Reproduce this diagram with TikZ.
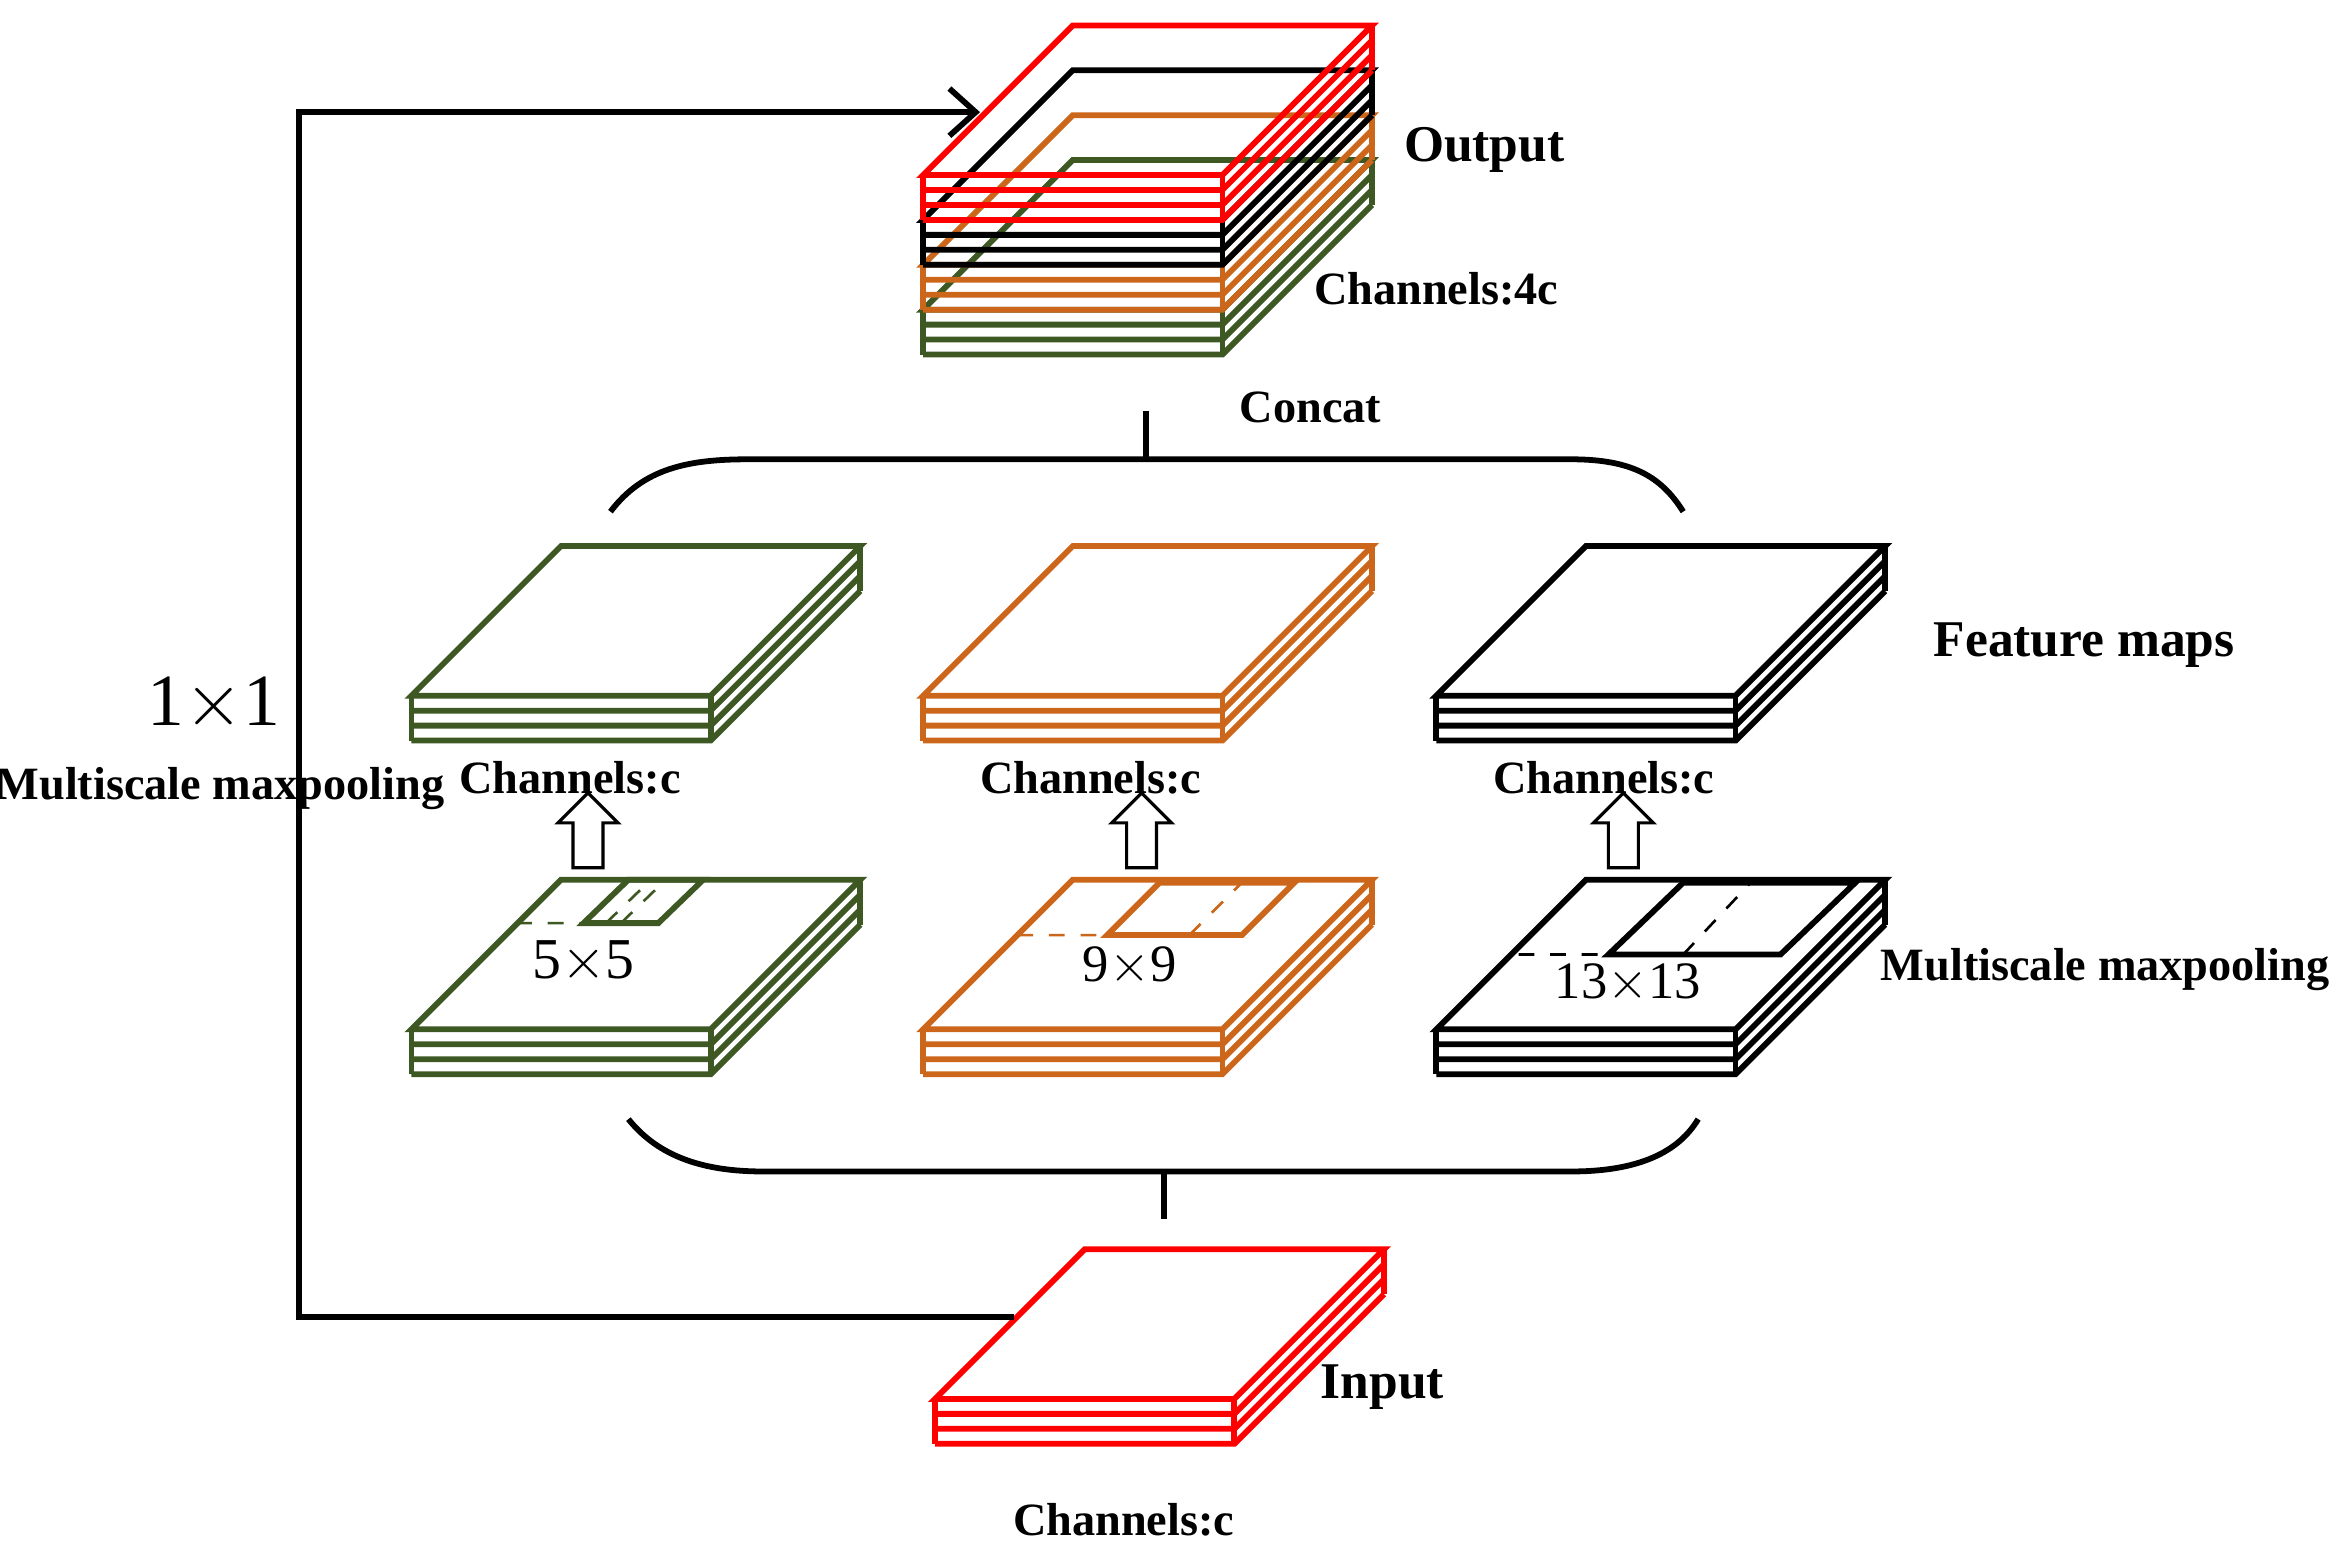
\documentclass[tikz,border=0pt]{standalone}
\usepackage{fontspec}
\setmainfont{Liberation Serif}
\usetikzlibrary{arrows.meta}
\definecolor{cgreen}{RGB}{62,88,36}
\definecolor{corange}{RGB}{204,102,26}
\definecolor{cred}{RGB}{255,0,0}
\newcommand\slab[5]{%
 \begin{scope}[shift={(#1,#2)},draw=#3,line width=1.1pt,line join=miter]
 \draw (0,0)--(2,0)--(3,1)--(1,1)--cycle;
 \foreach \i in {1,...,#4}{\draw (0,-\i*0.1)--(2,-\i*0.1)--(3,1-\i*0.1);}
 \draw (0,0)--(0,-#4*0.1); \draw (2,0)--(2,-#4*0.1); \draw (3,1)--(3,1-#4*0.1);
 \coordinate (#5) at (0,0);
 \end{scope}}
\newcommand\uparr[2]{\draw[line width=0.6pt] (#1-0.1,#2)--(#1+0.1,#2)--(#1+0.1,#2+0.3)--(#1+0.2,#2+0.3)--(#1,#2+0.5)--(#1-0.2,#2+0.3)--(#1-0.1,#2+0.3)--cycle;}
\tikzset{lbl/.style={font=\bfseries\fontsize{8.8}{10}\selectfont,inner sep=0pt},
 big/.style={font=\bfseries\fontsize{9.8}{11}\selectfont,inner sep=0pt},
 win/.style={line width=1.1pt},
 dsh/.style={dashed,line width=0.5pt}}
\begin{document}
\begin{tikzpicture}
\useasboundingbox (0,0) rectangle (15.68,10.43);
% output
\slab{6.17}{8.36}{cgreen}{3}{og}
\slab{6.17}{8.66}{corange}{3}{oo}
\slab{6.17}{8.96}{black}{3}{ob}
\slab{6.17}{9.26}{cred}{3}{or}
% feature maps
\slab{2.75}{5.78}{cgreen}{3}{fg}
\slab{6.17}{5.78}{corange}{3}{fo}
\slab{9.60}{5.78}{black}{3}{fb}
% pool maps
\slab{2.75}{3.55}{cgreen}{3}{pg}
\slab{6.17}{3.55}{corange}{3}{po}
\slab{9.60}{3.55}{black}{3}{pb}
% input
\slab{6.25}{1.08}{cred}{3}{in}
% windows
\draw[win,cgreen] (3.90,4.26)--(4.40,4.26)--(4.70,4.55)--(4.20,4.55)--cycle;
\draw[dsh,cgreen] (3.45,4.26)--(3.90,4.26) (4.05,4.26)--(4.35,4.55) (4.15,4.26)--(4.45,4.55);
\draw[win,corange] (7.40,4.18)--(8.30,4.18)--(8.65,4.53)--(7.75,4.53)--cycle;
\draw[dsh,corange] (6.80,4.18)--(7.40,4.18) (7.95,4.18)--(8.30,4.53);
\draw[win] (10.75,4.05)--(11.90,4.05)--(12.40,4.53)--(11.25,4.53)--cycle;
\draw[dsh] (10.15,4.05)--(10.75,4.05) (11.25,4.05)--(11.70,4.53);
\node[font=\fontsize{11}{12}\selectfont] (k5) at (3.90,4.00) {5$\times$5};
\node[font=\fontsize{10}{12}\selectfont] (k9) at (7.55,3.97) {9$\times$9};
\node[font=\fontsize{10}{12}\selectfont] (k13) at (10.88,3.86) {13$\times$13};
% arrows
\uparr{3.93}{4.63}
\uparr{7.63}{4.63}
\uparr{10.85}{4.63}
% braces
\coordinate (tb) at (7.66,7.36); \coordinate (tt) at (7.66,7.68);
\draw[line width=1.1pt] (4.08,7.01) .. controls (4.3,7.3) and (4.6,7.36) .. (5.0,7.36) -- (10.5,7.36) .. controls (10.9,7.36) and (11.1,7.25) .. (11.25,7.01);
\draw[line width=1.1pt] (tb)--(tt);
\coordinate (bb) at (7.78,2.60); \coordinate (bt) at (7.78,2.28);
\draw[line width=1.1pt] (4.2,2.95) .. controls (4.4,2.7) and (4.7,2.6) .. (5.1,2.6) -- (10.5,2.6) .. controls (10.9,2.6) and (11.2,2.7) .. (11.35,2.95);
\draw[line width=1.1pt] (bb)--(bt);
% skip
\coordinate (sA) at (6.78,1.63); \coordinate (sB) at (6.55,9.68);
\draw[line width=1.1pt,-{Straight Barb[length=5pt,width=9pt]}] (sA) -| (2.00,9.68) -- (sB);
% labels
\node[big] (t1) at (9.92,9.43) {Output};
\node[lbl] (t2) at (9.60,8.50) {Channels:4c};
\node[lbl] (t3) at (8.76,7.71) {Concat};
\node[big] (t4) at (13.93,6.12) {Feature maps};
\node[lbl] (t5) at (3.81,5.23) {Channels:c};
\node[lbl] (t6) at (7.29,5.23) {Channels:c};
\node[lbl] (t7) at (10.72,5.23) {Channels:c};
\node[lbl] (t8) at (14.07,3.95) {Multiscale maxpooling};
\node[font=\fontsize{13.5}{15}\selectfont] (t9) at (1.43,3.72+0.0) {};
\node[font=\fontsize{14}{15}\selectfont] (t9b) at (1.43,5.72) {1$\times$1};
\node[lbl] (t10) at (1.47,5.16) {Multiscale maxpooling};
\node[big] (t11) at (9.24,1.16) {Input};
\node[lbl] (t12) at (7.51,0.27) {Channels:c};
\end{tikzpicture}
\end{document}
